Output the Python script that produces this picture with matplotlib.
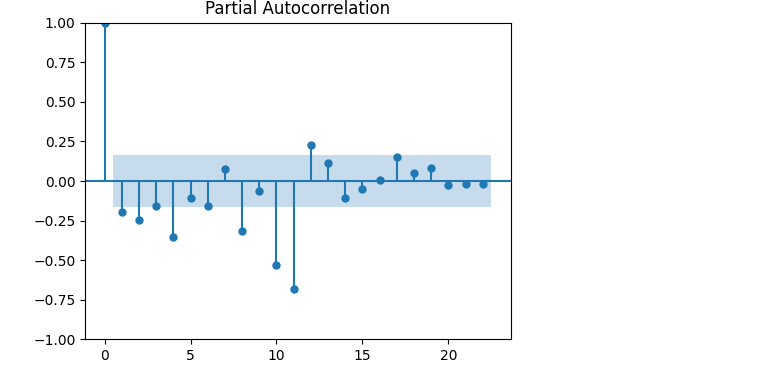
import numpy as np
import matplotlib
matplotlib.use("Agg")
import matplotlib.pyplot as plt

lags = list(range(23))
pacf_values = [1.0, -0.197, -0.248, -0.159, -0.352, -0.110, -0.159, 0.076, -0.314,
               -0.066, -0.532, -0.682, 0.229, 0.114, -0.110, -0.051, 0.004, 0.153,
               0.049, 0.083, -0.028, -0.017, -0.017]
conf_bound = 0.165

fig = plt.figure(figsize=(7.68, 3.86), dpi=100)
ax = fig.add_axes([0.111, 0.121, 0.554, 0.820])

ax.vlines(lags, [0], pacf_values, color="C0")
ax.axhline(0, color="C0")
ax.margins(0.05)
ax.plot(lags, pacf_values, marker="o", markersize=5, linestyle="None", color="C0")

band_x = np.array(lags[1:], dtype=float)
band_x[0] -= 0.5
band_x[-1] += 0.5
ax.fill_between(band_x, -conf_bound, conf_bound, alpha=0.25, linewidth=0, color="C0")

ax.set_ylim(-1, 1)
ax.set_yticks([-1.0, -0.75, -0.5, -0.25, 0.0, 0.25, 0.5, 0.75, 1.0])
ax.set_title("Partial Autocorrelation")

fig.savefig("out.png", dpi=100)
